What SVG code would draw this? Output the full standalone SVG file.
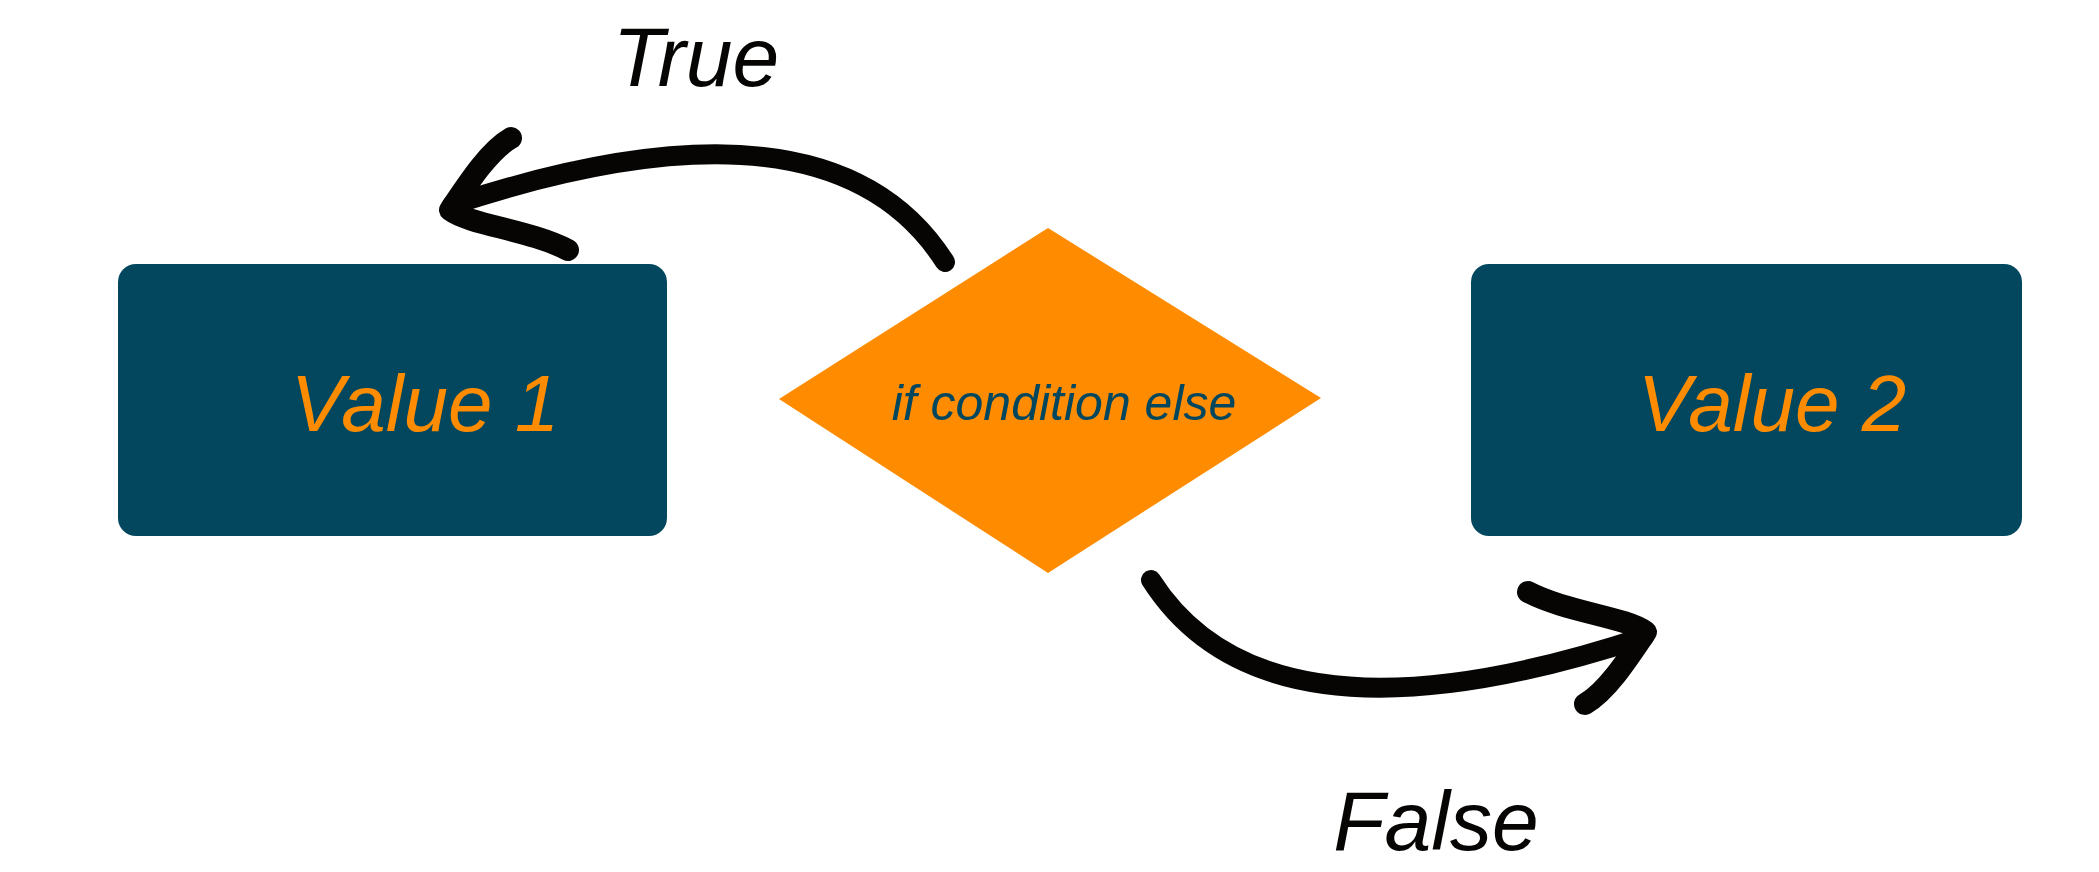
<svg xmlns="http://www.w3.org/2000/svg" width="2099" height="872" viewBox="0 0 2099 872">
<style>
.box{fill:#02475E}
.lbl{font-family:"Liberation Sans",sans-serif;font-style:italic;text-anchor:middle}
.arr{fill:none;stroke:#060503;stroke-linecap:round;stroke-linejoin:round}
</style>
<rect width="2099" height="872" fill="#fff"/>
<g id="value1"><rect class="box" x="118" y="264" width="549" height="272" rx="18"/><text class="lbl" x="425" y="431" font-size="80" fill="#FF8C00">Value 1</text></g>
<g id="value2"><rect class="box" x="1471" y="264" width="551" height="272" rx="18"/><text class="lbl" x="1772" y="431" font-size="80" fill="#FF8C00">Value 2</text></g>
<g id="condition"><polygon points="1048,228 1321,398 1048,573 779,399" fill="#FF8C00"/><text class="lbl" x="1064" y="420" font-size="50" fill="#02475E">if condition else</text></g>
<g id="connectors">
<g id="true-arrow">
<path class="arr" d="M945,262 C880,160 740,110 452,205" stroke-width="20"/>
<path class="arr" d="M511,138 C490,150 470,180 450,210 C470,225 530,230 568,250" stroke-width="22"/>
</g>
<g id="false-arrow" transform="rotate(180,1048,421)">
<path class="arr" d="M945,262 C880,160 740,110 452,205" stroke-width="20"/>
<path class="arr" d="M511,138 C490,150 470,180 450,210 C470,225 530,230 568,250" stroke-width="22"/>
</g>
</g>
<text class="lbl" x="696" y="86" font-size="84" fill="#060503">True</text>
<text class="lbl" x="1436" y="850" font-size="84" fill="#060503">False</text>
</svg>
